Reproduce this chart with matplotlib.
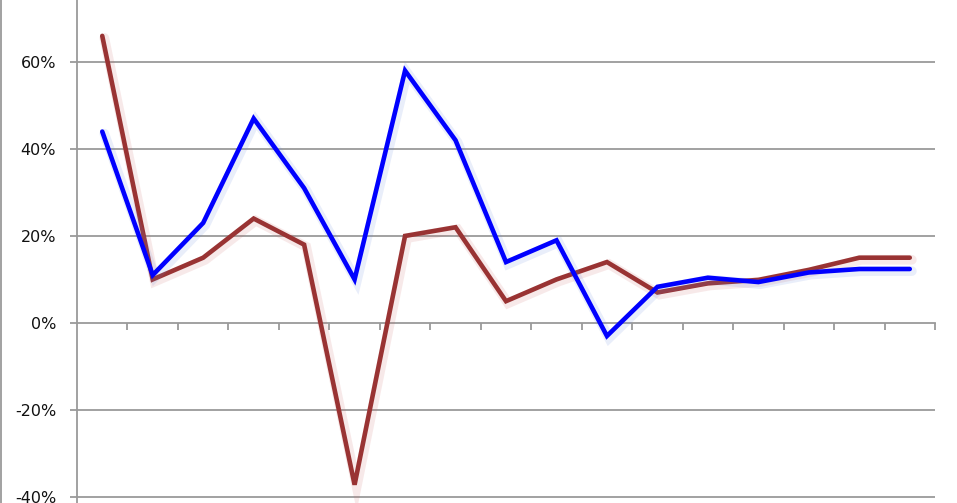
import numpy as np
import matplotlib
matplotlib.use('Agg')
import matplotlib.pyplot as plt
import matplotlib.patheffects as pe
from matplotlib.lines import Line2D
from matplotlib.ticker import FuncFormatter

# values (percent)
blue_vals = [44, 11, 23, 47, 31, 10, 58, 42, 14, 19, -3, 8.3, 10.4, 9.4, 11.6, 12.4, 12.4]
red_vals = [66, 10, 15, 24, 18, -37.2, 20, 22, 5, 10, 14, 7, 9.1, 9.9, 12.2, 15, 15]
ytick_vals = [-40, -20, 0, 20, 40, 60]

x = np.arange(len(blue_vals))

fig = plt.figure(figsize=(9.57, 5.03), dpi=100)
ax = fig.add_axes([77/957, 0, (935-77)/957, 1])

grid_col = '#9a9a9a'

def shadow(col):
    return [pe.Stroke(linewidth=7, foreground=col, alpha=0.14, offset=(1.5, -1.5)),
            pe.Normal()]

ax.plot(x, red_vals, color='#993333', lw=3.3, solid_joinstyle='miter',
        solid_capstyle='round', path_effects=shadow('#cc6666'), zorder=3)
ax.plot(x, blue_vals, color='#0000ff', lw=3.3, solid_joinstyle='miter',
        solid_capstyle='round', path_effects=shadow('#6688dd'), zorder=4)

ax.set_xlim(-0.5, len(x) - 0.5)
ax.set_ylim(-41.4, 74.25)

ax.set_yticks(ytick_vals)
ax.yaxis.set_major_formatter(FuncFormatter(lambda v, p: '%d%%' % v))
for v in ytick_vals:
    if v != 0:
        ax.axhline(v, color=grid_col, lw=1.3, zorder=1)

ax.set_xticks(np.arange(0.5, len(x), 1.0))
ax.set_xticklabels([])

for s in ['top', 'right']:
    ax.spines[s].set_visible(False)
ax.spines['bottom'].set_position(('data', 0))
ax.spines['bottom'].set_color(grid_col)
ax.spines['bottom'].set_linewidth(1.3)
ax.spines['left'].set_color(grid_col)
ax.spines['left'].set_linewidth(1.3)

ax.tick_params(axis='x', direction='out', length=5, width=1.3, color=grid_col)
ax.tick_params(axis='y', direction='out', length=5, width=1.3, color=grid_col,
               pad=10, labelsize=11.5, labelcolor='#111111')

fig.add_artist(Line2D([0.6/957, 0.6/957], [0, 1], color='#9a9a9a', lw=1.3,
                      transform=fig.transFigure))

fig.savefig('out.png', dpi=100)
